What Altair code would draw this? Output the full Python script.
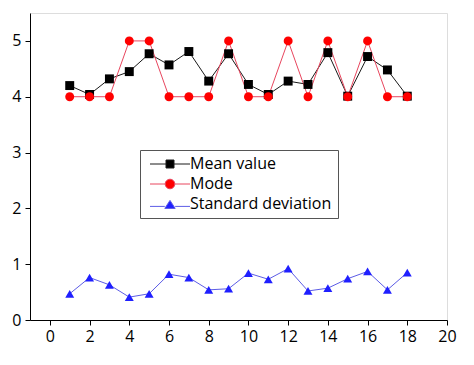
import altair as alt
import pandas as pd

x_vals = list(range(1, 19))
mean_vals = [4.20, 4.04, 4.32, 4.45, 4.77, 4.57, 4.81, 4.28, 4.77,
             4.22, 4.04, 4.28, 4.22, 4.79, 4.01, 4.72, 4.48, 4.01]
mode_vals = [4, 4, 4, 5, 5, 4, 4, 4, 5, 4, 4, 5, 4, 5, 4, 5, 4, 4]
std_vals = [0.47, 0.76, 0.63, 0.41, 0.47, 0.82, 0.76, 0.54, 0.56,
            0.84, 0.73, 0.92, 0.52, 0.57, 0.74, 0.87, 0.54, 0.85]
series_names = ["Mean value", "Mode", "Standard deviation"]
point_colors = ["#000000", "#ff0000", "#1f1fff"]
line_colors = ["#1a1a1a", "#e8465e", "#5c5ce6"]
shapes = ["square", "circle", "triangle-up"]

# legend glyphs: short line with the marker in the middle
legend_glyphs = [
    "M-1,0H3M5,0H9M3,-1H5V1H3Z",
    "M-1,0H2.8M5.2,0H9M5.2,0A1.2,1.2 0 1,1 2.8,0A1.2,1.2 0 1,1 5.2,0Z",
    "M-1,0.6H2.7M5.3,0.6H9M4,-0.9L5.3,1.1H2.7Z",
]

rows = []
for name, vals in zip(series_names, [mean_vals, mode_vals, std_vals]):
    for xv, yv in zip(x_vals, vals):
        rows.append({"x": xv, "value": yv, "series": name})
df = pd.DataFrame(rows)

FONT = "Open Sans"

xscale = alt.Scale(domain=[-1, 20], nice=False, zero=False)
yscale = alt.Scale(domain=[0, 5.5], nice=False)

xaxis = alt.Axis(
    values=list(range(0, 21)),
    labelExpr="datum.value % 2 == 0 ? format(datum.value, 'd') : ''",
    tickSize={"condition": {"test": "datum.value % 2 != 0", "value": 3}, "value": 5},
    grid=False, title=None, labelFontSize=16, labelFont=FONT, labelColor="#000",
    domainColor="#000", tickColor="#000", labelPadding=3, labelFlush=False,
)
yaxis = alt.Axis(
    values=[i * 0.5 for i in range(0, 11)],
    labelExpr="datum.value % 1 == 0 ? format(datum.value, 'd') : ''",
    tickSize={"condition": {"test": "datum.value % 1 != 0", "value": 3}, "value": 5},
    grid=False, title=None, labelFontSize=16, labelFont=FONT, labelColor="#000",
    domainColor="#000", tickColor="#000", labelPadding=4, labelFlush=False,
)

legend = alt.Legend(
    title=None, orient="none", legendX=110, legendY=137,
    strokeColor="#555", padding=6, labelFont=FONT, labelFontSize=16,
    labelColor="#000", symbolSize=64, labelOffset=28, rowPadding=4,
    symbolStrokeWidth=1, symbolOpacity=1,
)

base = alt.Chart(df)
lines = base.mark_line(strokeWidth=1).encode(
    x=alt.X("x:Q", scale=xscale, axis=xaxis),
    y=alt.Y("value:Q", scale=yscale, axis=yaxis),
    stroke=alt.Stroke("series:N", scale=alt.Scale(domain=series_names, range=line_colors), legend=None),
    detail="series:N",
)
points = base.mark_point(filled=True, opacity=1, size=80).encode(
    x=alt.X("x:Q", scale=xscale),
    y=alt.Y("value:Q", scale=yscale),
    fill=alt.Fill("series:N", scale=alt.Scale(domain=series_names, range=point_colors), legend=None),
    shape=alt.Shape("series:N", scale=alt.Scale(domain=series_names, range=shapes), legend=None),
)
legend_layer = base.transform_filter("false").mark_point(filled=True, opacity=1, strokeWidth=1, size=64).encode(
    x=alt.X("x:Q", scale=xscale),
    y=alt.Y("value:Q", scale=yscale),
    fill=alt.Fill("series:N", scale=alt.Scale(domain=series_names, range=point_colors), legend=legend),
    stroke=alt.Stroke("series:N", scale=alt.Scale(domain=series_names, range=line_colors), legend=legend),
    shape=alt.Shape("series:N", scale=alt.Scale(domain=series_names, range=legend_glyphs), legend=legend),
)

chart = alt.layer(lines, points, legend_layer).resolve_scale(
    shape="independent", fill="independent", stroke="independent"
).properties(
    width=417, height=307,
    autosize=alt.AutoSizeParams(type="none"),
    padding={"left": 22, "top": 5, "right": 19, "bottom": 37},
).configure_view(stroke=None).configure(background="white")

chart.save("out.html", embed_options={"renderer": "svg", "actions": False})
